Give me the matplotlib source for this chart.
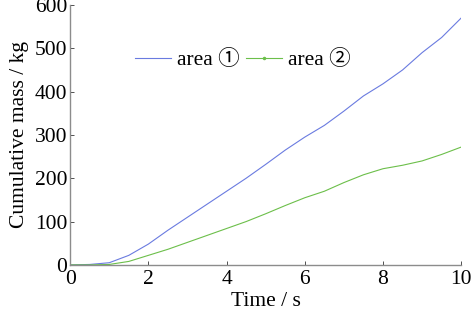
import numpy as np
import matplotlib.pyplot as plt
from matplotlib.lines import Line2D

plt.rcParams['font.family'] = ['Liberation Serif', 'DejaVu Sans', 'Noto Sans CJK SC']

# time in seconds
time_s = [0, 0.5, 1, 1.5, 2, 2.5, 3, 3.5, 4, 4.5, 5, 5.5, 6, 6.5, 7, 7.5, 8, 8.5, 9, 9.5, 10]
# cumulative mass (kg)
area1 = [0, 1, 5, 22, 48, 80, 110, 140, 170, 200, 232, 265, 295, 322, 355, 390, 418, 450, 490, 525, 570]
area2 = [0, 0, 1, 8, 22, 36, 52, 68, 84, 100, 118, 137, 155, 170, 190, 208, 222, 230, 240, 255, 272]

blue = '#6a7be0'
green = '#6cbf4a'

fig = plt.figure(figsize=(4.74, 3.12), dpi=100)
ax = fig.add_axes([0.148, 0.151, 0.825, 0.833])

ax.plot(time_s, area1, color=blue, lw=0.8)
ax.plot(time_s, area2, color=green, lw=0.8)

ax.set_xlim(0, 10)
ax.set_ylim(0, 600)
ax.set_xticks(range(0, 11, 2))
ax.set_yticks(range(0, 601, 100))

for s in ['top', 'right']:
    ax.spines[s].set_visible(False)
for s in ['left', 'bottom']:
    ax.spines[s].set_color('#8c8c8c')
    ax.spines[s].set_linewidth(1.0)
ax.tick_params(direction='in', length=3, width=0.6, color='#333333', labelsize=15.5)
ax.tick_params(axis='x', pad=4)
ax.tick_params(axis='y', pad=2)

ax.set_xlabel('Time / s', fontsize=15.5, labelpad=2)
ax.set_ylabel('Cumulative mass / kg', fontsize=15.5, labelpad=4)

handles = [Line2D([], [], color=blue, lw=0.8),
           Line2D([], [], color=green, lw=0.8, marker='.', markersize=3)]
ax.legend(handles, ['area \u2460', 'area \u2461'], ncol=2, frameon=False,
          prop={'size': 15.5, 'family': ['Liberation Serif', 'Noto Sans CJK SC']},
          loc='upper left', bbox_to_anchor=(0.117, 0.90), handlelength=1.65,
          handletextpad=0.3, columnspacing=0.3)

fig.savefig('out.png', dpi=100)
